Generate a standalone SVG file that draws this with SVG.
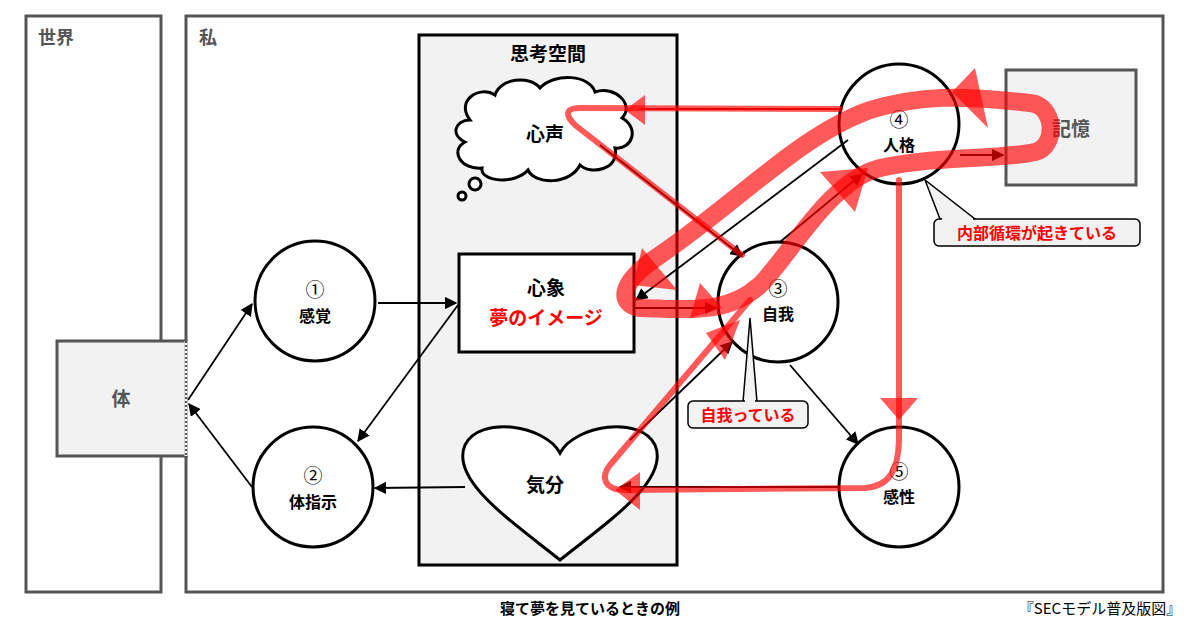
<svg xmlns="http://www.w3.org/2000/svg" width="1200" height="629" viewBox="0 0 1200 629">
<defs>
<style>
text{font-family:"Noto Sans CJK JP","Liberation Sans",sans-serif;font-weight:bold;text-anchor:middle}
.n{fill:#fff;stroke:#000;stroke-width:3}
.c{stroke:#000;stroke-width:1.8;fill:none;marker-end:url(#a)}
.rt{fill:none;stroke:#f00;stroke-opacity:.65;stroke-linejoin:round;stroke-linecap:round}
.rh{fill:#f00;fill-opacity:.65}
.num{font-size:19px;font-weight:normal}
</style>
<marker id="a" viewBox="0 0 10 10" refX="9" refY="5" markerWidth="7" markerHeight="7" orient="auto"><path d="M0,0L10,5L0,10z" fill="#000"/></marker>
</defs>
<rect width="1200" height="629" fill="#fff"/>
<g id="world"><rect x="26" y="16" width="135" height="576" fill="#fff" stroke="#555" stroke-width="3"/><text x="56" y="44" font-size="18" fill="#555">世界</text></g>
<g id="me"><rect x="186" y="16" width="977" height="576" fill="#fff" stroke="#555" stroke-width="3"/><text x="208" y="44" font-size="18" fill="#555">私</text></g>
<g id="thought"><rect x="419" y="35" width="258" height="530" fill="#f2f2f2" stroke="#000" stroke-width="3"/><text x="548" y="61" font-size="19">思考空間</text></g>
<g id="body"><rect x="57" y="341" width="129" height="115" fill="#f2f2f2" stroke="#555" stroke-width="3"/><line x1="186" y1="341" x2="186" y2="456" stroke="#fff" stroke-width="3"/><line x1="186" y1="341" x2="186" y2="456" stroke="#555" stroke-width="2" stroke-dasharray="2 2"/><text x="121" y="406" font-size="19" fill="#555">体</text></g>
<g id="memory"><rect x="1006" y="70" width="130" height="115" fill="#f2f2f2" stroke="#555" stroke-width="3"/><text x="1071" y="136" font-size="19" fill="#555">記憶</text></g>
<g id="n1"><circle class="n" cx="315" cy="301" r="60"/><text class="num" x="315" y="297">①</text><text x="315" y="322" font-size="16">感覚</text></g>
<g id="n2"><circle class="n" cx="313" cy="487" r="60"/><text class="num" x="313" y="483">②</text><text x="313" y="508" font-size="16">体指示</text></g>
<g id="n3"><circle class="n" cx="778" cy="302" r="60"/><text class="num" x="778" y="296">③</text><text x="778" y="320" font-size="16">自我</text></g>
<g id="n4"><circle class="n" cx="899" cy="124" r="60"/><text class="num" x="899" y="127">④</text><text x="899" y="151" font-size="16">人格</text></g>
<g id="n5"><circle class="n" cx="899" cy="487" r="60"/><text class="num" x="899" y="479">⑤</text><text x="899" y="503" font-size="16">感性</text></g>
<g id="image"><rect x="459" y="254" width="175" height="98" fill="#fff" stroke="#000" stroke-width="3"/><text x="546" y="295" font-size="19">心象</text><text x="546" y="325" font-size="19" fill="#f00">夢のイメージ</text></g>
<g id="voice"><path class="n" d="M470,120 C455,100 480,85 495,95 C500,78 530,75 540,88 C555,72 590,75 595,92 C615,85 635,105 622,118 C640,128 632,150 615,148 C620,170 590,175 580,165 C570,185 535,185 528,170 C515,185 480,182 482,168 C460,170 450,150 465,142 C450,135 455,120 470,120 Z"/><circle class="n" cx="475" cy="184" r="6" stroke-width="2.5"/><circle class="n" cx="462" cy="196" r="4" stroke-width="2.5"/><text x="545" y="141" font-size="19">心声</text></g>
<g id="mood"><path class="n" d="M560,453 C575,425 640,415 655,445 C670,480 610,520 560,560 C510,520 450,480 465,445 C480,415 545,425 560,453 Z"/><text x="545" y="492" font-size="19">気分</text></g>
<g id="callouts">
<path d="M940,219 L925,180 L975,219 Z" fill="#f2f2f2" stroke="#000" stroke-width="1.5"/>
<rect x="934" y="219" width="206" height="27" rx="5" fill="#f2f2f2" stroke="#000" stroke-width="1.5"/>
<line x1="942" y1="219" x2="973" y2="219" stroke="#f2f2f2" stroke-width="2"/>
<text x="1037" y="239" font-size="16" fill="#f00">内部循環が起きている</text>
<path d="M743,402 L750,318 L757,402 Z" fill="#f2f2f2" stroke="#000" stroke-width="1.5"/>
<rect x="688" y="401" width="120" height="27" rx="5" fill="#f2f2f2" stroke="#000" stroke-width="1.5"/>
<line x1="745" y1="401" x2="755" y2="401" stroke="#f2f2f2" stroke-width="2"/>
<text x="748" y="421" font-size="16" fill="#f00">自我っている</text>
</g>
<g id="connectors">
<line class="c" x1="188" y1="400" x2="252" y2="304"/>
<line class="c" x1="252" y1="487" x2="189" y2="404"/>
<line class="c" x1="378" y1="303" x2="456" y2="303"/>
<line class="c" x1="458" y1="305" x2="358" y2="441"/>
<line class="c" x1="465" y1="487" x2="375" y2="488"/>
<line class="c" x1="848" y1="140" x2="636" y2="300"/>
<line class="c" x1="780" y1="242" x2="862" y2="174"/>
<line class="c" x1="790" y1="365" x2="858" y2="444"/>
<line class="c" x1="630" y1="440" x2="732" y2="342"/>
<line class="c" x1="960" y1="155" x2="1003" y2="155"/>
<line class="c" x1="634" y1="308" x2="716" y2="308" stroke="#a00"/>
<line class="c" x1="600" y1="145" x2="742" y2="256" stroke="#a00"/>
<line class="c" x1="840" y1="487" x2="620" y2="487"/>
<line x1="840" y1="109" x2="640" y2="109" stroke="#c00" stroke-width="2"/>
</g>
<g id="red-flow">
<path class="rt" stroke-width="6" d="M840,109 L580,108 C565,108 565,115 575,125 L742,255"/>
<path class="rt" stroke-width="6" d="M750,300 L610,465 C600,478 605,490 625,490 L865,488 C890,486 898,470 899,440 L899,180"/>
<path class="rt" stroke-width="18" d="M640,308 C700,310 730,312 760,285 C790,255 830,180 880,168 C940,155 1000,160 1035,152 C1058,146 1055,105 1030,103 C960,95 920,95 870,110 C800,135 740,200 660,255 C615,285 620,305 640,308 Z"/>
<path class="rh" d="M645,95 L625,110 L645,125 Z"/>
<path class="rh" d="M706,333 L740,320 L725,360 Z"/>
<path class="rh" d="M640,472 L615,490 L640,510 Z"/>
<path class="rh" d="M880,398 L899,420 L918,398 Z"/>
<path class="rh" d="M975,68 L952,92 L988,128 Z"/>
<path class="rh" d="M820,172 L868,168 L855,212 Z"/>
<path class="rh" d="M642,248 L633,285 L677,290 Z"/>
<path class="rh" d="M700,283 L722,308 L690,318 Z"/>
</g>
<text x="590" y="614" font-size="15">寝て夢を見ているときの例</text>
<text x="1100" y="614" font-size="15" font-weight="normal" font-family="Noto Sans CJK JP, sans-serif" style="font-weight:normal">『SECモデル普及版図』</text>
</svg>
